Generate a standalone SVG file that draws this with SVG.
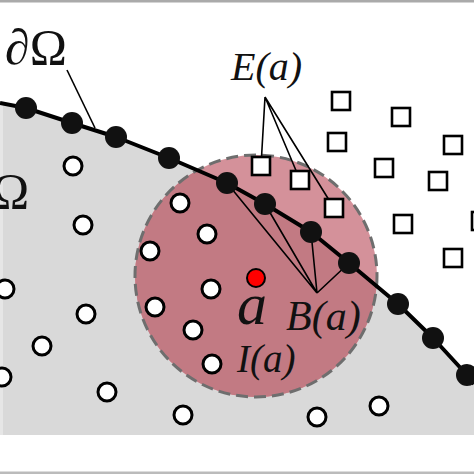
<svg xmlns="http://www.w3.org/2000/svg" width="474" height="474" viewBox="0 0 474 474">
<style>
.lbl{font-family:"Liberation Serif","Times New Roman",serif;fill:#111}
.it{font-style:italic}
.bd{fill:#111;stroke:none}
.in{fill:#fff;stroke:#000;stroke-width:3}
.ex{fill:#fff;stroke:#000;stroke-width:2.6}
.lead{stroke:#000;stroke-width:1.6;fill:none}
</style>
<defs>
<clipPath id="dom"><path d="M0,103 L26,108 L72,123 L116,137 L169,158 L227,183 L265,204 L311,232 L349,263 L398,304 L433,338 L467,375 L474,384 L474,435 L0,435 Z"/></clipPath>
</defs>
<rect x="0" y="0" width="474" height="474" fill="#fff"/>
<rect x="0" y="0" width="474" height="2.5" fill="#aaa"/>
<rect x="0" y="471.5" width="474" height="2.5" fill="#bbb"/>
<g id="domain">
<path d="M0,103 L26,108 L72,123 L116,137 L169,158 L227,183 L265,204 L311,232 L349,263 L398,304 L433,338 L467,375 L474,384 L474,435 L0,435 Z" fill="#d9d9d9"/>
<rect x="0" y="103" width="3" height="332" fill="#e6e6e6"/>
</g>
<g id="ball">
<circle cx="256" cy="276" r="121" fill="#d4919a"/>
<circle cx="256" cy="276" r="121" fill="#c27a83" clip-path="url(#dom)"/>
<circle cx="256" cy="276" r="121" fill="none" stroke="#6e6e6e" stroke-width="3" stroke-dasharray="12 6"/>
</g>
<g id="connectors">
<path class="lead" d="M67,70 L95,128"/>
<path class="lead" d="M265,97 L261,166 M265,97 L300,180 M265,97 L334,208"/>
<path class="lead" d="M317,293 L227,183 M317,293 L265,204 M317,293 L311,232 M317,293 L349,263"/>
<polyline points="0,103 26,108 72,123 116,137 169,158 227,183 265,204 311,232 349,263 398,304 433,338 467,375 474,384" fill="none" stroke="#000" stroke-width="4" stroke-linejoin="round"/>
</g>
<g id="boundary-points">
<circle class="bd" cx="26" cy="108" r="11"/>
<circle class="bd" cx="72" cy="123" r="11"/>
<circle class="bd" cx="116" cy="137" r="11"/>
<circle class="bd" cx="169" cy="158" r="11"/>
<circle class="bd" cx="227" cy="183" r="11"/>
<circle class="bd" cx="265" cy="204" r="11"/>
<circle class="bd" cx="311" cy="232" r="11"/>
<circle class="bd" cx="349" cy="263" r="11"/>
<circle class="bd" cx="398" cy="304" r="11"/>
<circle class="bd" cx="433" cy="338" r="11"/>
<circle class="bd" cx="467" cy="375" r="11"/>
</g>
<g id="interior-points">
<circle class="in" cx="73" cy="166" r="9"/>
<circle class="in" cx="83" cy="225" r="9"/>
<circle class="in" cx="180" cy="203" r="9"/>
<circle class="in" cx="207" cy="234" r="9"/>
<circle class="in" cx="150" cy="251" r="9"/>
<circle class="in" cx="5" cy="289" r="9"/>
<circle class="in" cx="211" cy="289" r="9"/>
<circle class="in" cx="86" cy="314" r="9"/>
<circle class="in" cx="155" cy="307" r="9"/>
<circle class="in" cx="193" cy="330" r="9"/>
<circle class="in" cx="42" cy="346" r="9"/>
<circle class="in" cx="212" cy="364" r="9"/>
<circle class="in" cx="2" cy="377" r="9"/>
<circle class="in" cx="107" cy="392" r="9"/>
<circle class="in" cx="183" cy="415" r="9"/>
<circle class="in" cx="317" cy="417" r="9"/>
<circle class="in" cx="379" cy="406" r="9"/>
</g>
<g id="exterior-points">
<rect class="ex" x="252" y="157" width="18" height="18"/>
<rect class="ex" x="291" y="171" width="18" height="18"/>
<rect class="ex" x="325" y="199" width="18" height="18"/>
<rect class="ex" x="332" y="92" width="18" height="18"/>
<rect class="ex" x="392" y="108" width="18" height="18"/>
<rect class="ex" x="328" y="133" width="18" height="18"/>
<rect class="ex" x="444" y="136" width="18" height="18"/>
<rect class="ex" x="375" y="159" width="18" height="18"/>
<rect class="ex" x="429" y="172" width="18" height="18"/>
<rect class="ex" x="394" y="215" width="18" height="18"/>
<rect class="ex" x="472" y="212" width="18" height="18"/>
<rect class="ex" x="444" y="249" width="18" height="18"/>
</g>
<g id="point-a">
<circle cx="256" cy="278" r="9" fill="#ff0000" stroke="#000" stroke-width="2"/>
</g>
<g id="labels">
<text class="lbl" x="5" y="64" font-size="50">∂Ω</text>
<text class="lbl" x="-8" y="208" font-size="50">Ω</text>
<text class="lbl it" x="231" y="80" font-size="40">E(a)</text>
<text class="lbl it" x="237" y="324" font-size="60">a</text>
<text class="lbl it" x="286" y="330" font-size="42">B(a)</text>
<text class="lbl it" x="237" y="372" font-size="39">I(a)</text>
</g>
</svg>
